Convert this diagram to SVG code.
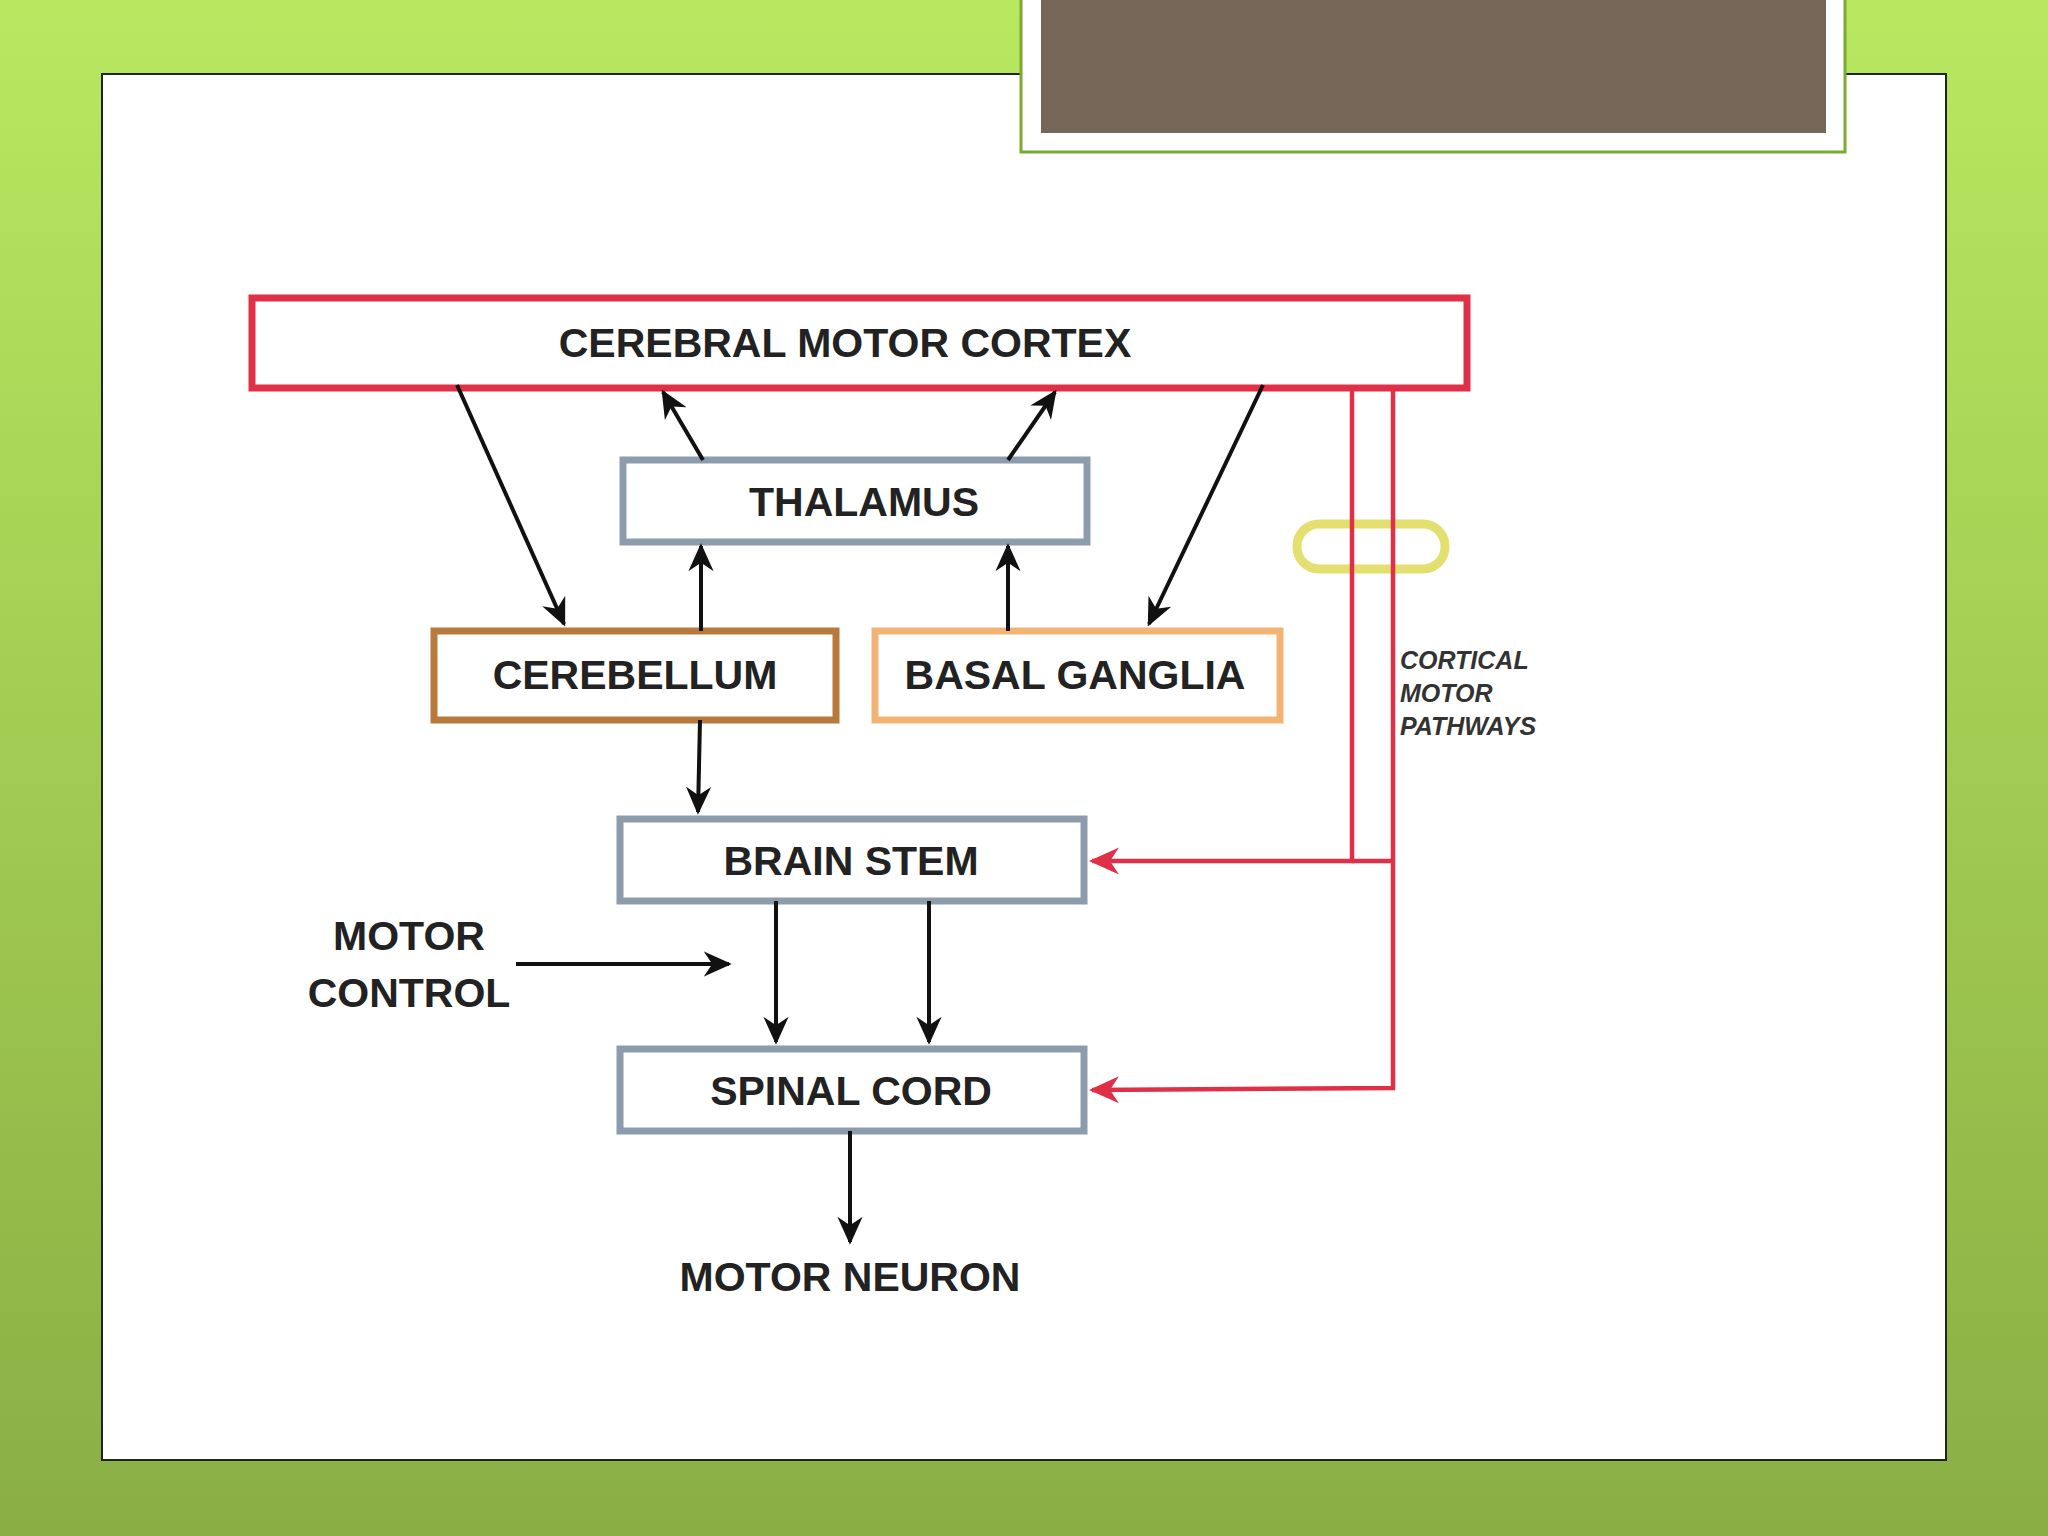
<svg xmlns="http://www.w3.org/2000/svg" width="2048" height="1536" viewBox="0 0 2048 1536">
<defs>
<linearGradient id="bg" x1="0" y1="0" x2="0" y2="1"><stop offset="0" stop-color="#b8e860"/><stop offset="1" stop-color="#8aae44"/></linearGradient>
<marker id="ak" viewBox="0 0 20 20" refX="18" refY="10" markerWidth="28" markerHeight="28" orient="auto" markerUnits="userSpaceOnUse"><path d="M0,1 L20,10 L0,19 L6,10 z" fill="#111"/></marker>
<marker id="ar" viewBox="0 0 20 20" refX="18" refY="10" markerWidth="30" markerHeight="30" orient="auto" markerUnits="userSpaceOnUse"><path d="M0,1 L20,10 L0,19 L6,10 z" fill="#e03048"/></marker>
</defs>
<style>
.lbl{font-family:"Liberation Sans",Arial,sans-serif;font-weight:bold;font-size:41px;fill:#222;text-anchor:middle}
.box{fill:#fff;stroke-width:7}
.k{stroke:#111;stroke-width:4;fill:none;marker-end:url(#ak)}
.r{stroke:#e03048;stroke-width:4.5;fill:none}
</style>
<rect width="2048" height="1536" fill="url(#bg)"/>
<rect x="102" y="74" width="1844" height="1386" fill="#fff" stroke="#222" stroke-width="2"/>
<rect x="1021" y="-5" width="824" height="157" fill="#fff" stroke="#7aaa30" stroke-width="3"/>
<rect x="1041" y="-5" width="785" height="138" fill="#756658"/>
<g id="cortex"><rect class="box" x="252" y="298" width="1215" height="90" stroke="#e03048"/><text class="lbl" x="845" y="357">CEREBRAL MOTOR CORTEX</text></g>
<g id="thalamus"><rect class="box" x="623" y="460" width="464" height="82" stroke="#8c9cac"/><text class="lbl" x="864" y="516">THALAMUS</text></g>
<g id="cerebellum"><rect class="box" x="434" y="631" width="402" height="89" stroke="#b87a3c"/><text class="lbl" x="635" y="689">CEREBELLUM</text></g>
<g id="basal"><rect class="box" x="875" y="631" width="405" height="89" stroke="#f2b474"/><text class="lbl" x="1075" y="689">BASAL GANGLIA</text></g>
<g id="brainstem"><rect class="box" x="620" y="819" width="464" height="82" stroke="#8c9cac"/><text class="lbl" x="851" y="875">BRAIN STEM</text></g>
<g id="spinal"><rect class="box" x="620" y="1049" width="464" height="82" stroke="#8c9cac"/><text class="lbl" x="851" y="1105">SPINAL CORD</text></g>
<g id="motorneuron"><text class="lbl" x="850" y="1291">MOTOR NEURON</text></g>
<g id="motorcontrol"><text class="lbl" x="409" y="950">MOTOR</text><text class="lbl" x="409" y="1007">CONTROL</text></g>
<g id="pathways" font-family="'Liberation Sans',Arial,sans-serif" font-weight="bold" font-style="italic" font-size="25" fill="#333"><text x="1400" y="669">CORTICAL</text><text x="1400" y="702">MOTOR</text><text x="1400" y="735">PATHWAYS</text></g>
<rect x="1297" y="524" width="148" height="45" rx="22" fill="none" stroke="#e4e070" stroke-width="9"/>
<g id="connectors">
<line class="k" x1="457" y1="385" x2="564" y2="624"/>
<line class="k" x1="703" y1="460" x2="663" y2="392"/>
<line class="k" x1="1008" y1="460" x2="1055" y2="392"/>
<line class="k" x1="1263" y1="385" x2="1149" y2="624"/>
<line class="k" x1="701" y1="631" x2="701" y2="546"/>
<line class="k" x1="1008" y1="631" x2="1008" y2="546"/>
<line class="k" x1="700" y1="720" x2="698" y2="812"/>
<line class="k" x1="776" y1="901" x2="776" y2="1042"/>
<line class="k" x1="929" y1="901" x2="929" y2="1042"/>
<line class="k" x1="850" y1="1131" x2="850" y2="1242"/>
<line class="k" x1="516" y1="964" x2="729" y2="964"/>
<path class="r" d="M1352,388 V861 H1092" marker-end="url(#ar)"/>
<path class="r" d="M1393,388 V1088 L1092,1090" marker-end="url(#ar)"/>
<line class="r" x1="1352" y1="861" x2="1393" y2="861"/>
</g>
</svg>
